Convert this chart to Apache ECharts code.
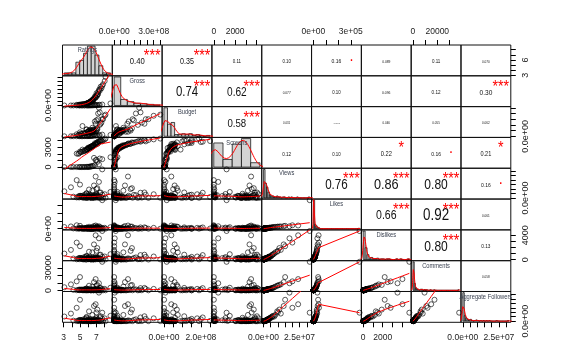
<!DOCTYPE html>
<html><head><meta charset="utf-8">
<script src="https://cdn.jsdelivr.net/npm/echarts@6/dist/echarts.min.js"></script>
<style>html,body{margin:0;padding:0;background:#fff}#c{width:561px;height:361px}</style>
</head><body><div id="c"></div>
<script>
const varNames = ['Ratings','Gross','Budget','Screens','Views','Likes','Dislikes','Comments','Aggregate Followers'];

const ratings = [
6.3,7.1,5.8,6.6,7.4,5.2,6.9,6.1,7.8,5.5,
6.4,7.0,4.9,6.7,6.2,7.6,5.9,6.5,8.1,5.4,
6.8,6.0,7.2,4.6,6.3,7.3,5.7,6.6,6.9,5.1,
7.5,6.4,5.9,7.0,6.2,8.0,5.6,6.7,4.8,7.2,
6.5,5.3,7.7,6.1,6.9,5.0,7.4,6.6,6.0,7.1,
6.3,5.8,
6.2,5.5,7.3,4.9,6.6,3.1,5.9,7.7,6.4,5.0,
6.8,4.2,6.1,7.1,5.6,6.3,8.7,5.3,6.0,4.6,
6.9,5.8,7.4,3.9,6.5,5.2,7.0,6.7];

const gross = [
45e6,120e6,22e6,68e6,180e6,12e6,95e6,38e6,260e6,18e6,
55e6,150e6,9e6,88e6,40e6,210e6,25e6,62e6,350e6,15e6,
110e6,33e6,140e6,8e6,50e6,190e6,20e6,75e6,100e6,11e6,
230e6,58e6,28e6,125e6,44e6,300e6,16e6,82e6,7e6,165e6,
70e6,14e6,240e6,36e6,105e6,10e6,200e6,64e6,30e6,135e6,
48e6,24e6,
1.2e6,0.3e6,4.5e6,0.1e6,2.0e6,0.05e6,0.8e6,12e6,1.5e6,0.2e6,
3.5e6,0.1e6,0.9e6,6e6,0.4e6,1.8e6,25e6,0.3e6,0.7e6,0.08e6,
5e6,0.6e6,9e6,0.02e6,2.5e6,0.2e6,4e6,14e6];

const budget = [
35e6,60e6,60e6,50e6,100e6,20e6,60e6,20e6,150e6,25e6,
45e6,140e6,15e6,40e6,55e6,120e6,35e6,40e6,190e6,28e6,
130e6,45e6,150e6,18e6,30e6,250e6,30e6,60e6,110e6,22e6,
110e6,50e6,38e6,50e6,35e6,180e6,25e6,58e6,12e6,200e6,
75e6,90e6,150e6,48e6,40e6,35e6,210e6,52e6,42e6,70e6,
55e6,60e6,
3e6,1e6,8e6,0.5e6,5e6,0.2e6,2e6,15e6,4e6,1e6,
6e6,0.8e6,3e6,10e6,1.5e6,4e6,12e6,1e6,2.5e6,0.5e6,
9e6,2e6,11e6,0.3e6,5e6,1e6,7e6,16e6];

const screens = [
3100,3500,2600,3200,3900,2300,3400,2900,4100,2500,
3000,3700,2100,3300,2800,4000,2700,3100,4324,2400,
3600,2900,3650,2050,3050,3950,2550,3250,3450,2250,
4050,3150,2750,3550,3000,4200,2450,3350,2000,3800,
3200,2650,3900,2850,3500,2350,3850,3300,2950,3750,
3050,2700,
60,10,420,2,150,1,35,1200,90,8,
300,5,50,800,20,110,1500,12,40,3,
1050,30,1300,2,180,6,1100,1400];

const views = [
2.8e6,1.0e6,0.18e6,0.65e6,0.12e6,2.0e6,0.35e6,1.3e6,0.1e6,0.4e6,
0.2e6,3.5e6,0.55e6,0.3e6,1.6e6,0.45e6,0.35e6,0.9e6,0.25e6,0.7e6,
2.5e6,0.5e6,0.3e6,0.6e6,0.15e6,1.1e6,0.2e6,0.4e6,
1.4e6,2.5e6,6.2e6,1.9e6,2.9e6,10.0e6,0.9e6,4.2e6,2.0e6,14.0e6,
1.4e6,3.1e6,8.2e6,0.5e6,3.7e6,1.0e6,24.0e6,2.2e6,5.9e6,1.6e6,
2.8e6,11.0e6,0.8e6,4.8e6,3.6e6,1.2e6,18.0e6,2.4e6,0.6e6,7.5e6,
1.7e6,32.0e6,1.0e6,15.0e6,3.3e6,1.5e6,9.5e6,2.3e6,3.9e6,0.7e6,
6.8e6,2.6e6,1.1e6,20.0e6,1.8e6,5.5e6,0.9e6,12.0e6,3.0e6,1.3e6,
4.5e6,2.1e6];

const likes = [
7e3,2.8e3,0.4e3,1.8e3,0.2e3,5e3,0.9e3,3.5e3,0.2e3,1.0e3,
0.5e3,9e3,1.6e3,0.7e3,4e3,1.1e3,0.8e3,2.5e3,0.6e3,2e3,
6e3,1.2e3,0.4e3,1.5e3,0.3e3,3e3,0.5e3,1.0e3,
4e3,7e3,18e3,5e3,8.5e3,27e3,2e3,12e3,5.5e3,34e3,
3.5e3,9e3,24e3,1.0e3,11e3,2.8e3,42e3,6e3,17e3,4.5e3,
8e3,28e3,2e3,13e3,10e3,3e3,32e3,7e3,1.2e3,22e3,
5e3,370e3,2.5e3,38e3,10e3,4e3,26e3,6e3,11e3,1.5e3,
20e3,7e3,3e3,45e3,5e3,14e3,2e3,30e3,9e3,4e3,
15e3,8e3];

const dislikes = [
230,85,22,58,60,160,40,100,20,48,
28,260,65,35,130,50,150,80,45,60,
200,70,120,55,30,90,25,40,
185,280,820,210,340,1450,125,520,230,2500,
180,370,1200,70,460,130,4000,250,750,200,
320,1900,110,550,420,170,3500,290,80,1000,
220,4700,140,2200,380,190,1300,260,480,95,
900,300,150,2800,240,600,120,1600,350,160,
420,210];

const comments = [
1000,380,55,230,45,700,115,480,40,130,
70,1300,210,95,550,140,110,330,80,250,
900,150,90,200,50,400,60,120,
610,980,3300,740,1280,6500,380,2000,820,11000,
540,1350,5000,200,1800,460,15000,880,3000,700,
1200,7200,330,2300,1650,560,9500,1050,240,4200,
760,38000,420,17700,1400,650,6200,950,1900,280,
3500,1100,500,12000,800,2600,350,8000,1500,600,
2100,900];

const followers = [
1.0e6,0.3e6,0.02e6,0.14e6,0.01e6,0.7e6,0.05e6,0.4e6,0.01e6,0.07e6,
0.02e6,1.4e6,0.12e6,0.04e6,0.5e6,0.06e6,0.05e6,0.25e6,0.03e6,0.15e6,
0.9e6,0.08e6,0.02e6,0.1e6,0.01e6,0.3e6,0.02e6,0.05e6,
0.55e6,1.3e6,5.5e6,0.75e6,1.9e6,9.8e6,0.2e6,3.2e6,0.85e6,17e6,
0.45e6,2.1e6,7.0e6,0.1e6,2.6e6,0.3e6,19e6,1.1e6,4.2e6,0.7e6,
1.8e6,13e6,0.2e6,3.8e6,2.4e6,0.5e6,32e6,1.4e6,0.15e6,5.2e6,
0.8e6,9.5e6,0.25e6,24e6,2.2e6,0.6e6,11e6,1.0e6,2.7e6,0.1e6,
6.0e6,1.6e6,0.3e6,15e6,0.9e6,4.8e6,0.2e6,8.5e6,2.0e6,0.4e6,
3.5e6,1.2e6];

// tick positions per variable
const ratingsTicks = [3,4,5,6,7,8];
const grossTicks = [0,5e7,1e8,1.5e8,2e8,2.5e8,3e8,3.5e8];
const budgetTicks = [0,5e7,1e8,1.5e8,2e8,2.5e8];
const screensTicks = [0,1000,2000,3000,4000];
const viewsTicks = [0,5e6,1e7,1.5e7,2e7,2.5e7,3e7];
const likesTicks = [0,1e5,2e5,3e5];
const dislikesTicks = [0,1000,2000,3000,4000];
const commentsTicks = [0,1e4,2e4,3e4];
const followersTicks = [0,5e6,1e7,1.5e7,2e7,2.5e7,3e7];

// tick labels: horizontal axes (top/bottom) and vertical axes (left/right)
const hLabels = [
  [[3,'3'],[5,'5'],[7,'7']],
  [[0,'0.0e+00'],[3e8,'3.0e+08']],
  [[0,'0.0e+00'],[2e8,'2.0e+08']],
  [[0,'0'],[2000,'2000']],
  [[0,'0.0e+00'],[2.5e7,'2.5e+07']],
  [[0,'0e+00'],[3e5,'3e+05']],
  [[0,'0'],[2000,'2000']],
  [[0,'0'],[2e4,'20000']],
  [[0,'0.0e+00'],[2.5e7,'2.5e+07']]
];
const vLabels = [
  [[3,'3'],[6,'6']],
  [[0,'0.0e+00']],
  [[0,'0.0e+00']],
  [[0,'0'],[3000,'3000']],
  [[0,'0.0e+00']],
  [[0,'0e+00']],
  [[0,'0'],[4000,'4000']],
  [[0,'0'],[3e4,'30000']],
  [[0,'0.0e+00']]
];

const histStep = [0.5, 5e7, 2e7, 1000, 1e6, 1e4, 200, 1000, 1e6];

// upper panels, row by row
const corrText = ['0.40','0.35','0.11','0.10','0.16','0.089','0.11','0.070',
  '0.74','0.62','0.077','0.10','0.096','0.12','0.30',
  '0.58','0.031','-0.0041','0.046','0.055','0.062',
  '0.12','0.10','0.22','0.16','0.21',
  '0.76','0.86','0.80','0.16',
  '0.66','0.92','0.061',
  '0.80','0.13',
  '0.058'];
const corrStars = ['***','***','','','.','','','',
  '***','***','','','','','***',
  '***','','','','','',
  '','','*','.','*',
  '***','***','***','.',
  '***','***','',
  '***','',
  ''];

const vars = [ratings,gross,budget,screens,views,likes,dislikes,comments,followers];
const tickSets = [ratingsTicks,grossTicks,budgetTicks,screensTicks,viewsTicks,likesTicks,dislikesTicks,commentsTicks,followersTicks];

// ---------- helpers (statistics drawn from the data) ----------
function lim(v){const mn=Math.min(...v),mx=Math.max(...v),d=mx-mn;return [mn-0.04*d,mx+0.04*d];}
function quant(s,p){const h=(s.length-1)*p,lo=Math.floor(h);return s[lo]+(h-lo)*((s[Math.min(lo+1,s.length-1)])-s[lo]);}
function kde(v){
  const n=v.length, m=v.reduce((a,b)=>a+b,0)/n;
  const sd=Math.sqrt(v.reduce((a,b)=>a+(b-m)*(b-m),0)/(n-1));
  const s=[...v].sort((a,b)=>a-b);
  const iqr=quant(s,0.75)-quant(s,0.25);
  let lo=Math.min(sd,iqr/1.34); if(!(lo>0)) lo=sd;
  const bw=0.9*lo*Math.pow(n,-0.2);
  const a=s[0]-3*bw,b=s[n-1]+3*bw,N=400,out=[];
  for(let k=0;k<N;k++){const x=a+(b-a)*k/(N-1);let d=0;for(const xi of v){const z=(x-xi)/bw;d+=Math.exp(-0.5*z*z);}out.push([x,d/(n*bw*Math.sqrt(2*Math.PI))]);}
  return out;
}
function hist(v,step){
  const mn=Math.min(...v),mx=Math.max(...v);
  const b0=Math.floor(mn/step)*step;let bN=Math.ceil(mx/step)*step;if(bN<=b0)bN=b0+step;
  const nb=Math.round((bN-b0)/step),c=new Array(nb).fill(0);
  for(const x of v){let k=Math.ceil((x-b0)/step-1e-9)-1;if(k<0)k=0;if(k>=nb)k=nb-1;c[k]++;}
  const bins=c.map((cnt,k)=>[b0+k*step,b0+(k+1)*step,cnt/(v.length*step)]);
  return {b0,bN,bins,dmax:Math.max(...bins.map(b=>b[2]))};
}
function lowess(xs,ys,f,iter){
  const n=xs.length,idx=xs.map((_,i)=>i).sort((a,b)=>xs[a]-xs[b]);
  const x=idx.map(i=>xs[i]),y=idx.map(i=>ys[i]);
  const ns=Math.max(2,Math.min(n,Math.floor(f*n+1e-7)));
  let rw=new Array(n).fill(1);const fit=new Array(n);const range=x[n-1]-x[0];
  for(let it=0;it<=iter;it++){
    let nl=0,nr=ns-1;
    for(let i=0;i<n;i++){
      while(nr<n-1 && x[i]-x[nl]>x[nr+1]-x[i]){nl++;nr++;}
      const h=Math.max(x[i]-x[nl],x[nr]-x[i]),h9=0.999*h,h1=0.001*h;
      const w=new Array(n).fill(0);let sw=0;
      for(let j=0;j<n;j++){const r=Math.abs(x[j]-x[i]);if(r<=h9){w[j]=(r<=h1?1:Math.pow(1-Math.pow(r/h,3),3))*rw[j];sw+=w[j];}}
      if(sw<=0){fit[i]=y[i];continue;}
      for(let j=0;j<n;j++)w[j]/=sw;
      if(h>0){let a=0;for(let j=0;j<n;j++)a+=w[j]*x[j];let c=0;for(let j=0;j<n;j++)c+=w[j]*(x[j]-a)*(x[j]-a);
        if(Math.sqrt(c)>0.001*range){const bb=(x[i]-a)/c;for(let j=0;j<n;j++)w[j]*=(bb*(x[j]-a)+1);}}
      let ysum=0;for(let j=0;j<n;j++)ysum+=w[j]*y[j];fit[i]=ysum;
    }
    if(it===iter)break;
    const res=y.map((yy,i)=>yy-fit[i]);const ar=res.map(Math.abs).sort((a,b)=>a-b);
    const med=n%2?ar[(n-1)/2]:(ar[n/2-1]+ar[n/2])/2;const cmad=6*med;
    if(cmad<=0)break;
    rw=res.map(r=>{const q=Math.abs(r);return q<=0.001*cmad?1:(q<=0.999*cmad?Math.pow(1-(q/cmad)*(q/cmad),2):0);});
  }
  return x.map((xv,i)=>[xv,fit[i]]);
}
function strW(s){let w=0;for(const ch of s)w+=ch==='.'?0.278:(ch==='-'?0.333:0.556);return w;}

// ---------- layout ----------
const L=62.5,T=45,R=510.8,B=322.3,PW=(R-L)/9,PH=(B-T)/9;
const FN="'Liberation Sans',Arial,sans-serif";
const grids=[],xAxes=[],yAxes=[],series=[];

function shownAxis(v,gi,pos,isX){
  const lbls=isX?hLabels[v]:vLabels[v];const lm=lim(vars[v]);
  const margin={top:9,bottom:11,left:9,right:10}[pos];
  return {type:'value',gridIndex:gi,min:lm[0],max:lm[1],position:pos,show:true,
    axisLine:{show:false,onZero:false},splitLine:{show:false},
    axisTick:{show:true,inside:false,length:5,customValues:tickSets[v],lineStyle:{color:'#000',width:1}},
    axisLabel:{show:true,customValues:lbls.map(p=>p[0]),margin:margin,rotate:isX?0:90,
      fontSize:isX?8.5:9,fontFamily:FN,color:'#222',
      formatter:function(val){const e=lbls.find(p=>Math.abs(p[0]-val)<=1e-6*Math.max(1,Math.abs(p[0])));return e?e[1]:'';}}};
}
function hiddenAxis(lm,gi){return {type:'value',gridIndex:gi,min:lm[0],max:lm[1],show:false,axisLine:{onZero:false}};}
function addX(a){xAxes.push(a);return xAxes.length-1;}
function addY(a){yAxes.push(a);return yAxes.length-1;}
// text drawn at panel coordinates (0..1), horizontally condensed like the original device
function textSeries(xi,yi,x,y,txt,fs,color){
  return {type:'custom',xAxisIndex:xi,yAxisIndex:yi,data:[[x,y]],silent:true,z:5,clip:false,
    encode:{x:0,y:1},
    renderItem:function(params,api){
      const p=api.coord([api.value(0),api.value(1)]);
      return {type:'text',x:p[0],y:p[1],scaleX:0.82,
        style:{text:txt,fontSize:fs,fontFamily:FN,fill:color,align:'center',verticalAlign:'middle'}};
    }};
}

let ci=0;
for(let i=0;i<9;i++){
  for(let j=0;j<9;j++){
    const g=grids.length;
    grids.push({left:L+j*PW,top:T+i*PH,width:PW,height:PH,show:true,borderColor:'#111',borderWidth:1,
      backgroundColor:'rgba(0,0,0,0)',containLabel:false,outerBoundsMode:'none'});
    let xa,ya;
    if(i===0 && j%2===1) xa=addX(shownAxis(j,g,'top',true));
    else if(i===8 && j%2===0) xa=addX(shownAxis(j,g,'bottom',true));
    else xa=addX(hiddenAxis(lim(vars[j]),g));
    if(j===0 && i%2===1) ya=addY(shownAxis(i,g,'left',false));
    else if(j===8 && i%2===0) ya=addY(shownAxis(i,g,'right',false));
    else ya=addY(hiddenAxis(lim(vars[i]),g));

    if(i>j){
      const pts=vars[j].map((x,k)=>[x,vars[i][k]]);
      series.push({type:'scatter',xAxisIndex:xa,yAxisIndex:ya,data:pts,symbol:'circle',symbolSize:5,silent:true,
        itemStyle:{color:'rgba(0,0,0,0)',borderColor:'#000',borderWidth:0.8}});
      series.push({type:'line',xAxisIndex:xa,yAxisIndex:ya,data:lowess(vars[j],vars[i],2/3,3),showSymbol:false,
        silent:true,clip:true,lineStyle:{color:'#ff0000',width:1},z:4});
    } else if(i===j){
      const h=hist(vars[i],histStep[i]);const span=h.bN-h.b0;
      const hx=addX(hiddenAxis([h.b0-0.04*span,h.bN+0.04*span],g));
      const hy=addY(hiddenAxis([-0.04*h.dmax,1.04*h.dmax],g));
      series.push({type:'custom',xAxisIndex:hx,yAxisIndex:hy,data:h.bins,silent:true,clip:true,
        encode:{x:[0,1],y:2},
        renderItem:function(params,api){
          const p0=api.coord([api.value(0),api.value(2)]),p1=api.coord([api.value(1),0]);
          return {type:'rect',shape:{x:p0[0],y:p0[1],width:p1[0]-p0[0],height:p1[1]-p0[1]},
            style:{fill:'#d3d3d3',stroke:'#000',lineWidth:0.7}};
        }});
      series.push({type:'line',xAxisIndex:hx,yAxisIndex:hy,data:kde(vars[i]),showSymbol:false,silent:true,clip:true,
        lineStyle:{color:'#ff0000',width:1},z:4});
      const ux=addX(hiddenAxis([0,1],g)),uy=addY(hiddenAxis([0,1],g));
      series.push(textSeries(ux,uy,0.5,0.833,varNames[i],7,'#3a4150'));
    } else {
      const txt=corrText[ci],st=corrStars[ci];ci++;
      const r=Math.abs(parseFloat(txt));
      const fsBase=17.4*1.946/strW(txt);
      const ux=addX(hiddenAxis([0,1],g)),uy=addY(hiddenAxis([0,1],g));
      series.push(textSeries(ux,uy,0.5,0.46,txt,fsBase*(r+0.3)/1.3,'#111'));
      if(st) series.push(textSeries(ux,uy,0.8,0.64,st,fsBase,'#ff0000'));
    }
  }
}

const chart=echarts.init(document.getElementById('c'),null,{renderer:'canvas'});
chart.setOption({animation:false,backgroundColor:'#fff',textStyle:{fontFamily:FN},
  grid:grids,xAxis:xAxes,yAxis:yAxes,series:series});
</script></body></html>
